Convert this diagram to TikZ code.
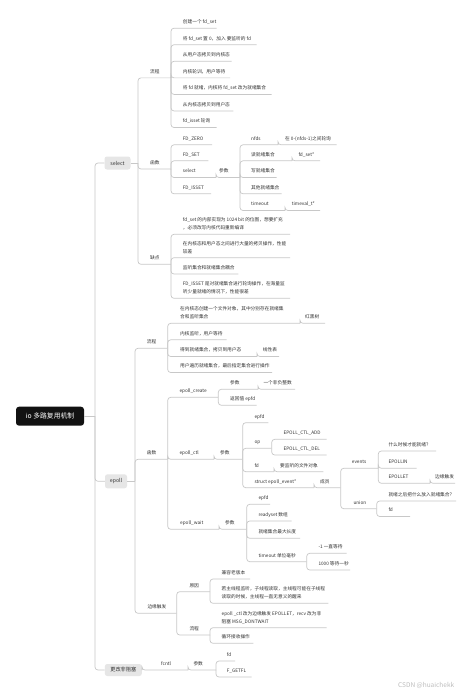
\documentclass[tikz,border=0pt]{standalone}
\usepackage{fontspec}
\newfontfamily\cjk{Noto Sans CJK SC}
\usetikzlibrary{calc}
\definecolor{lnc}{HTML}{C8C8C8}
\definecolor{txc}{HTML}{333333}
\definecolor{boxc}{HTML}{E6E6E6}
\definecolor{wmc}{HTML}{BDBDBD}
\tikzset{
 conn/.style={draw=lnc, line width=0.7pt, rounded corners=3pt},
 lbl/.style={inner sep=0pt, font=\cjk\fontsize{4.7}{7.8}\selectfont, text=txc, align=left},
 topbox/.style={fill=boxc, rounded corners=2.5pt, inner sep=0pt, font=\cjk\fontsize{5.2}{6}\selectfont, text=txc, minimum height=13pt},
 rootbox/.style={fill=black!93, rounded corners=3pt, text=white, font=\cjk\fontsize{6.8}{8}\selectfont, minimum width=68pt, minimum height=19pt, inner sep=0pt},
 wmark/.style={inner sep=0pt, text=wmc, font=\cjk\fontsize{6.5}{7}\selectfont},
}
\newcommand{\mmn}[6]{%
 \node[lbl, anchor=base west] (#1) at ({#3},{#4-4.7}) {#6};
 \coordinate (#1-e) at ({#5},{#4});
 \draw[conn] (#2) |- (#1-e);}
\newcommand{\mmnii}[7]{%
 \node[lbl, anchor=base west] (#1) at ({#3},{#4-4.7}) {#6\\#7};
 \coordinate (#1-e) at ({#5},{#4});
 \draw[conn] (#2) |- (#1-e);}
\begin{document}
\begin{tikzpicture}[x=1pt,y=-1pt]
\useasboundingbox (0,0) rectangle (474,694);
\fill[white] (0,0) rectangle (474,694);
% root and main branches
\node[rootbox] (root) at (50,416.2) {io 多路复用机制};
\coordinate (root-j) at (95,416.2);
\draw[conn] (root.east) -- (root-j);
\node[topbox, minimum width=26pt] (sel) at (117.5,163) {select};
\draw[conn] (root-j) |- (sel.west);
\coordinate (sel-j) at (138,163);
\draw[conn] (sel.east) -- (sel-j);
\node[topbox, minimum width=22pt, minimum height=14pt] (ep) at (116,481.3) {epoll};
\draw[conn] (root-j) |- (ep.west);
\coordinate (ep-j) at (135,481.3);
\draw[conn] (ep.east) -- (ep-j);
\node[topbox, minimum width=37pt, minimum height=12pt] (nb) at (123.3,670) {更改非阻塞};
\draw[conn] (root-j) |- (nb.west);
% select
\mmn{slc}{sel-j}{150}{77.85}{171}{流程}
\mmn{sfn}{sel-j}{150}{169}{171}{函数}
\mmn{sqd}{sel-j}{150}{264.3}{171}{缺点}
\mmn{a1}{slc-e}{182.7}{28.2}{216.7}{创建一个 fd\_set}
\mmn{a2}{slc-e}{182.7}{44.75}{256.7}{将 fd\_set 置 0，加入 要监听的 fd}
\mmn{a3}{slc-e}{182.7}{61.3}{231.7}{从用户态拷贝到内核态}
\mmn{a4}{slc-e}{182.7}{77.85}{230}{内核轮训，用户等待}
\mmn{a5}{slc-e}{182.7}{94.4}{271.7}{将 fd 就绪，内核将 fd\_set 改为就绪集合}
\mmn{a6}{slc-e}{182.7}{110.95}{233.3}{从内核态拷贝到用户态}
\mmn{a7}{slc-e}{182.7}{127.5}{216.7}{fd\_isset 轮询}
\mmn{b1}{sfn-e}{182.7}{144.8}{212}{FD\_ZERO}
\mmn{b2}{sfn-e}{182.7}{160.8}{208.3}{FD\_SET}
\mmn{b3}{sfn-e}{182.7}{177.5}{216}{select}
\mmn{b4}{sfn-e}{182.7}{193.8}{211}{FD\_ISSET}
\mmn{b3p}{b3-e}{219}{177.5}{240}{参数}
\mmn{c1}{b3p-e}{251}{144.8}{278}{nfds}
\mmn{c1a}{c1-e}{285}{144.8}{336.7}{在 0-(nfds-1)之间轮询}
\mmn{c2}{b3p-e}{251}{160.8}{292}{读就绪集合}
\mmn{c2a}{c2-e}{298.3}{160.8}{320}{fd\_set*}
\mmn{c3}{b3p-e}{251}{177.5}{276.7}{写就绪集合}
\mmn{c4}{b3p-e}{251}{193.8}{281.7}{其他就绪集合}
\mmn{c5}{b3p-e}{251}{210.5}{285}{timeout}
\mmn{c5a}{c5-e}{291.7}{210.5}{320}{timeval\_t*}
\mmnii{d1}{sqd-e}{182.7}{234.3}{290}{fd\_set 的内部实现为 1024 bit 的位图，想要扩充}{，必须改写内核代码重新编译}
\mmnii{d2}{sqd-e}{182.7}{257.7}{290}{在内核态和用户态之间进行大量的拷贝操作，性能}{较差}
\mmn{d3}{sqd-e}{182.7}{274}{238.3}{监听集合和就绪集合耦合}
\mmnii{d4}{sqd-e}{182.7}{298.3}{290}{FD\_ISSET 是对就绪集合进行轮询操作，在海量监}{听少量就绪的情况下，性能很差}
% epoll
\mmn{elc}{ep-j}{146.7}{348.3}{167.7}{流程}
\mmn{efn}{ep-j}{146.7}{459.3}{167.7}{函数}
\mmn{eet}{ep-j}{147.3}{613.3}{176.7}{边缘触发}
\mmnii{f1}{elc-e}{180}{323.3}{300}{在内核态创建一个文件对象，其中分别存在就绪集}{合和监听集合}
\mmn{f1a}{f1-e}{305}{323.3}{325}{红黑树}
\mmn{f2}{elc-e}{180}{339.8}{226.7}{内核监听，用户等待}
\mmn{f3}{elc-e}{180}{356.5}{257}{得到就绪集合，拷贝到用户态}
\mmn{f3a}{f3-e}{262.7}{356.5}{279}{线性表}
\mmn{f4}{elc-e}{180}{372.5}{272}{用户遍历就绪集合，最后指定集合进行操作}
\mmn{g1}{efn-e}{179.3}{397.3}{218.3}{epoll\_create}
\mmn{g1a}{g1-e}{230}{389.3}{258}{参数}
\mmn{g1b}{g1a-e}{263.3}{389.3}{295}{一个非负整数}
\mmn{g1c}{g1-e}{230}{405.3}{256.7}{返回值 epfd}
\mmn{g2}{efn-e}{179.3}{459.3}{214}{epoll\_ctl}
\mmn{g2p}{g2-e}{220}{459.3}{242.7}{参数}
\mmn{h1}{g2p-e}{254.3}{422.7}{268.3}{epfd}
\mmn{h2}{g2p-e}{254.3}{448.3}{271.7}{op}
\mmn{h2a}{h2-e}{283.3}{439.3}{326.7}{EPOLL\_CTL\_ADD}
\mmn{h2b}{h2-e}{283.3}{455}{326.7}{EPOLL\_CTL\_DEL}
\mmn{h3}{g2p-e}{254.3}{471.7}{274}{fd}
\mmn{h3a}{h3-e}{280}{471.7}{323.3}{要监听的文件对象}
\mmn{h4}{g2p-e}{254.3}{487.7}{314}{struct epoll\_event*}
\mmn{h4a}{h4-e}{320}{487.7}{340.7}{成员}
\mmn{i1}{h4a-e}{351.7}{468.3}{378.3}{events}
\mmn{i1a}{i1-e}{388.3}{451}{436}{什么时候才能就绪？}
\mmn{i1b}{i1-e}{388.3}{468.3}{416.7}{EPOLLIN}
\mmn{i1c}{i1-e}{388.3}{483.3}{430}{EPOLLET}
\mmn{i1d}{i1c-e}{435}{483.3}{455}{边缘触发}
\mmn{i2}{h4a-e}{353.3}{508.7}{376.7}{union}
\mmn{i2a}{i2-e}{388.3}{501}{456}{就绪之后把什么放入就绪集合？}
\mmn{i2b}{i2-e}{388.3}{516.5}{410}{fd}
\mmn{g3}{efn-e}{180}{529.3}{219}{epoll\_wait}
\mmn{g3p}{g3-e}{225}{529.3}{246.7}{参数}
\mmn{j1}{g3p-e}{258.3}{504.3}{270}{epfd}
\mmn{j2}{g3p-e}{258.3}{521}{291.7}{readyset 数组}
\mmn{j3}{g3p-e}{258.3}{538.3}{300}{就绪集合最大长度}
\mmn{j4}{g3p-e}{258.3}{561.7}{306.7}{timeout 单位毫秒}
\mmn{j4a}{j4-e}{318.3}{553.3}{346.7}{-1 一直等待}
\mmn{j4b}{j4-e}{318.3}{570}{350}{1000 等待一秒}
\mmn{k1}{eet-e}{189.3}{591.7}{210}{原因}
\mmn{k1a}{k1-e}{221.5}{579}{250}{兼容老版本}
\mmnii{k1b}{k1-e}{221.5}{603.3}{328.3}{若主线程监听，子线程读取，主线程可能在子线程}{读取的时候，主线程一直无意义的醒来}
\mmn{k2}{eet-e}{189.3}{635}{210}{流程}
\mmnii{k2a}{k2-e}{221.5}{627.7}{326.7}{epoll \_ctl 改为边缘触发 EPOLLET，recv 改为非}{阻塞 MSG\_DONTWAIT}
\mmn{k2b}{k2-e}{221.5}{643.3}{253.3}{循环接收操作}
% non-blocking
\mmn{l1}{nb.east}{161}{670}{188}{fcntl}
\mmn{l1p}{l1-e}{193.3}{670}{216}{参数}
\mmn{l2}{l1p-e}{226.7}{661}{235}{fd}
\mmn{l3}{l1p-e}{226.7}{677}{251.7}{F\_GETFL}
% watermark
\node[wmark, anchor=west] (wm) at (398,685) {CSDN @huaichekk};
\end{tikzpicture}
\end{document}
